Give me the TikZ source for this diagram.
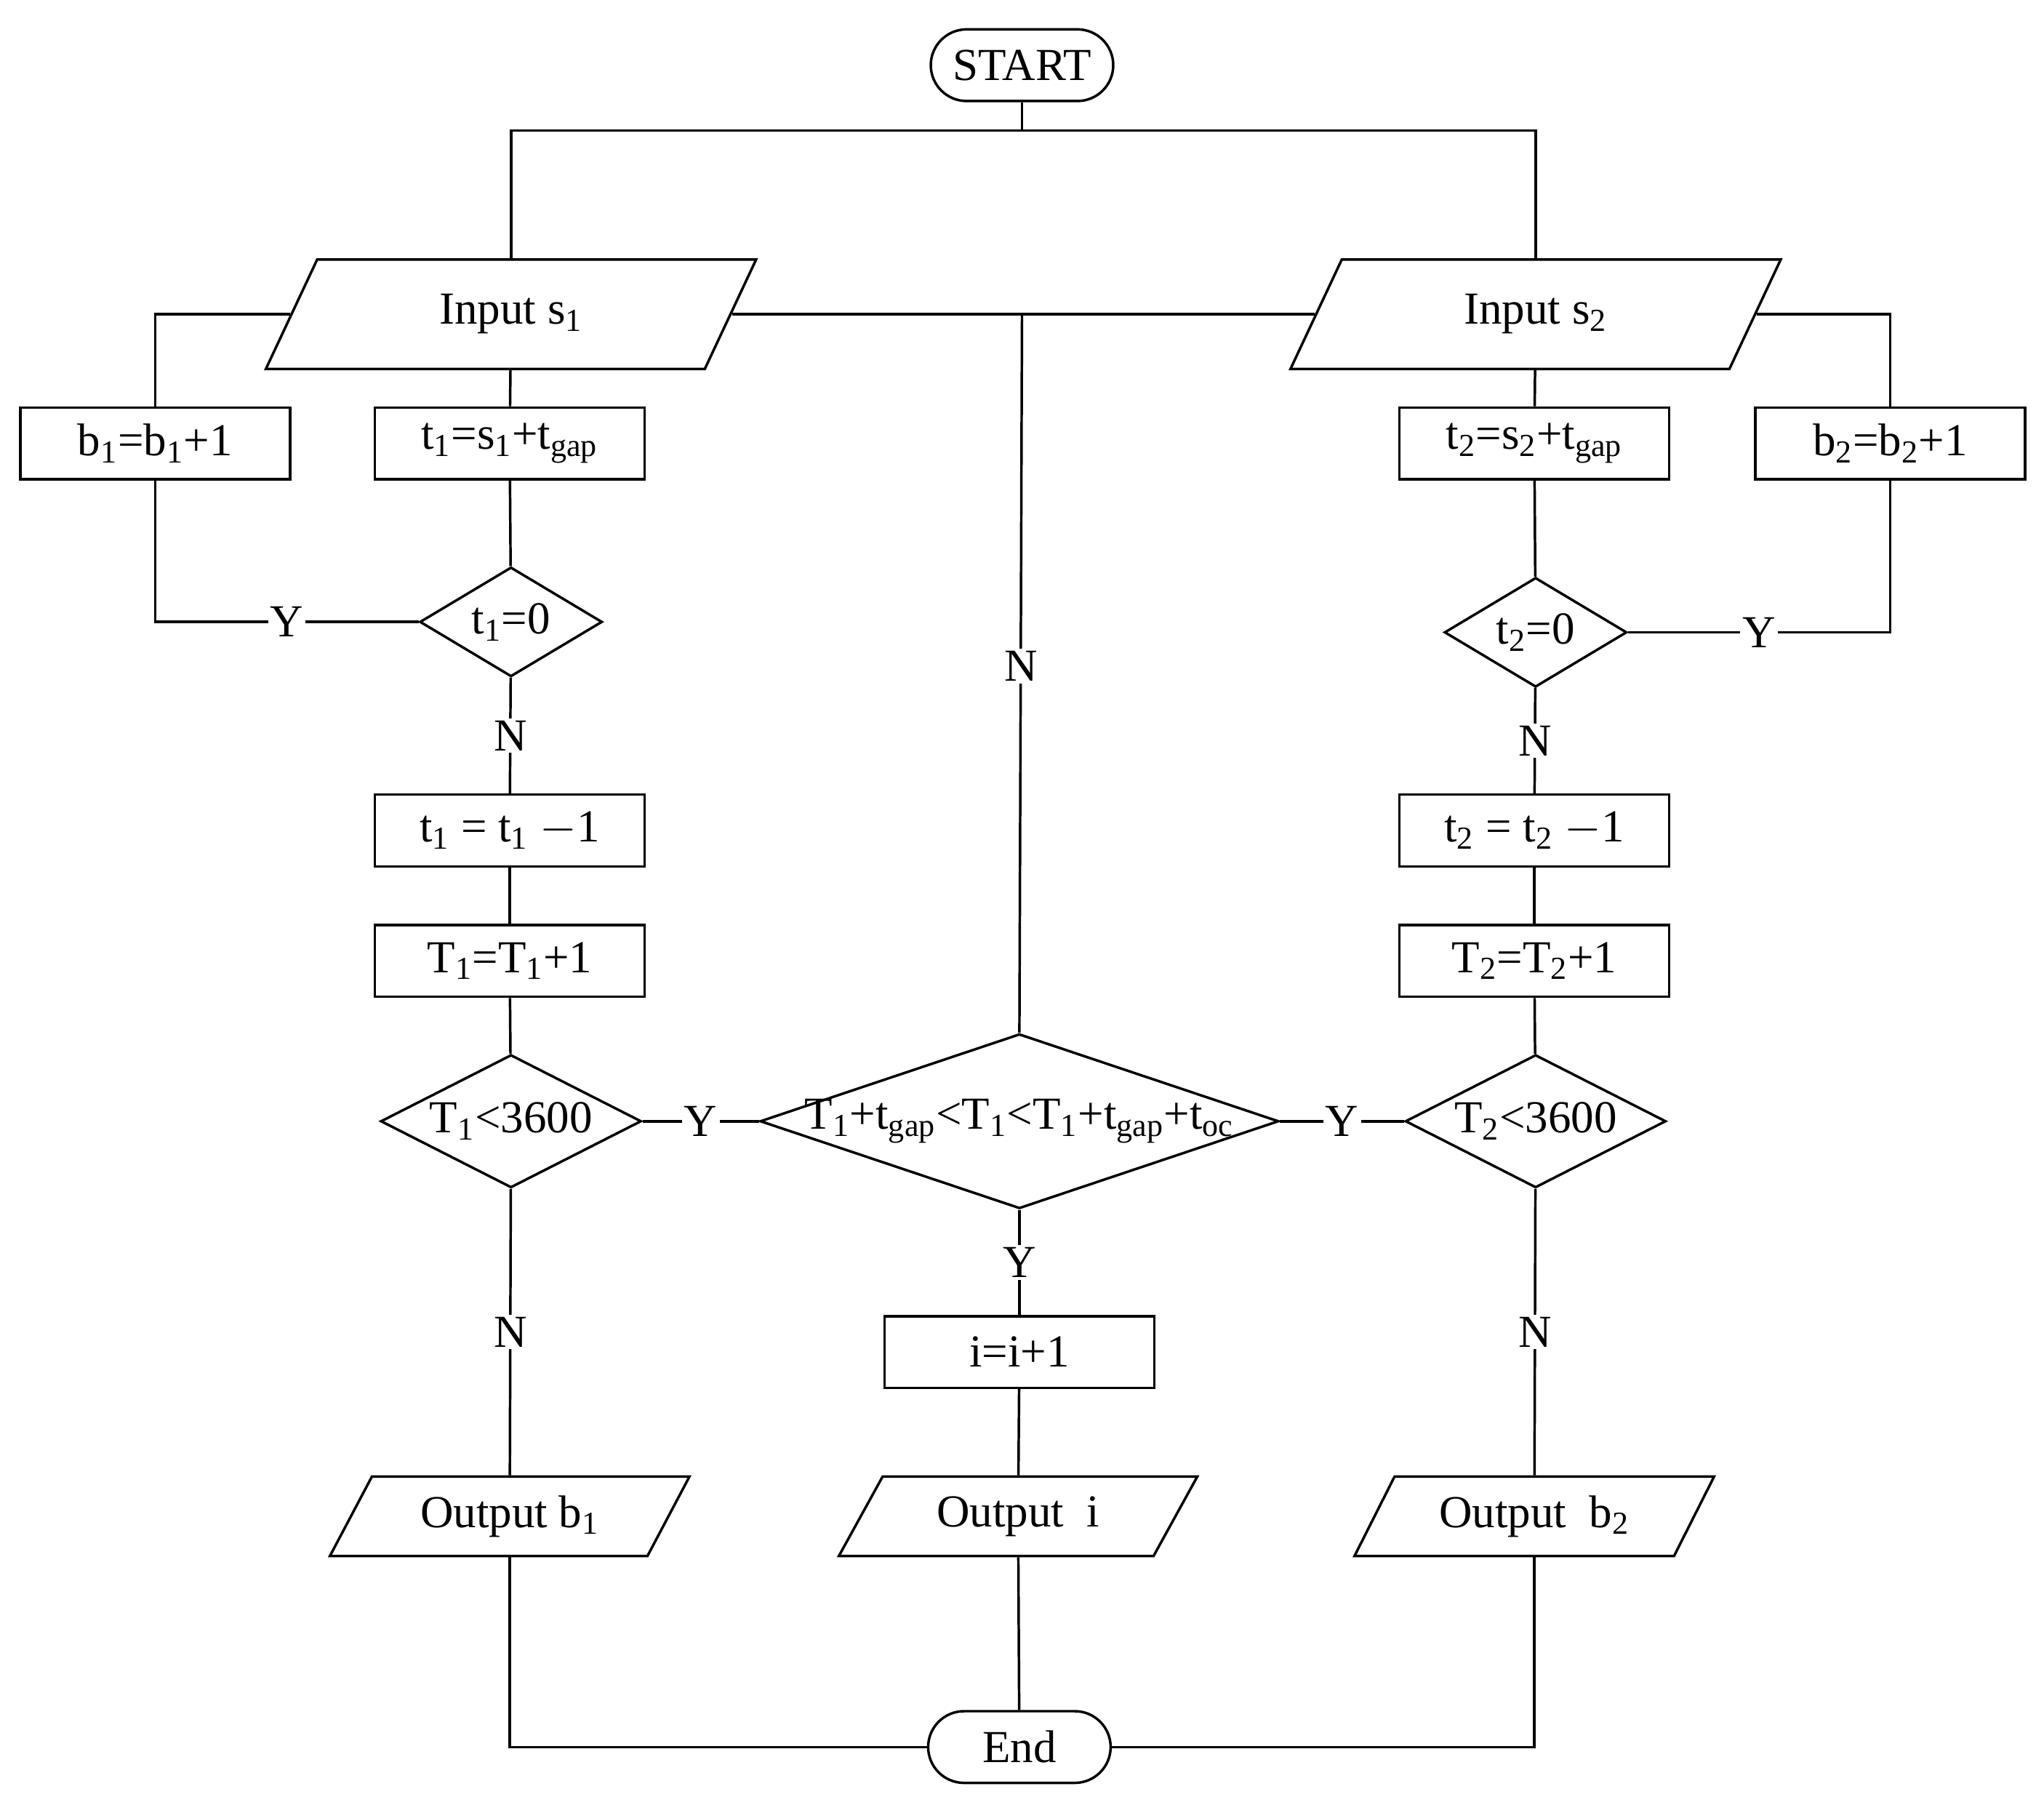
\documentclass[tikz,border=0pt]{standalone}
\usepackage{fontspec}
\setmainfont{Liberation Serif}
\usetikzlibrary{shapes.geometric}
\newcommand{\sbs}[1]{\textsubscript{#1}}
\begin{document}
\begin{tikzpicture}[x=0.02cm,y=-0.02cm,line width=1.1pt,
  every node/.style={font=\fontsize{20}{22}\selectfont},
  box/.style={draw,rectangle,minimum width=4.14cm,minimum height=1.1cm,inner sep=0},
  term/.style={draw,rectangle,rounded corners=0.55cm,minimum width=2.8cm,minimum height=1.1cm,inner sep=0},
  dia/.style={draw,diamond,inner sep=0},
  inp/.style={draw,trapezium,trapezium left angle=64.5,trapezium right angle=115.5,trapezium stretches=true,minimum width=7.56cm,minimum height=1.68cm,inner sep=0},
  outp/.style={draw,trapezium,trapezium left angle=56.7,trapezium right angle=123.3,trapezium stretches=true,minimum width=5.52cm,minimum height=1.22cm,inner sep=0},
  lab/.style={fill=white,inner sep=1pt}]
\useasboundingbox (0,0) rectangle (1568,1384);
\node[term,minimum width=2.8cm] (start) at (784,50) {START};
\node[inp] (in1) at (392,241) {Input s\sbs{1}};
\node[inp] (in2) at (1178,241) {Input s\sbs{2}};
\node[box] (b1) at (119,340) {b\sbs{1}=b\sbs{1}+1};
\node[box] (t1) at (391,340) {t\sbs{1}=s\sbs{1}+t\sbs{gap}};
\node[box] (t2) at (1177,340) {t\sbs{2}=s\sbs{2}+t\sbs{gap}};
\node[box] (b2) at (1450,340) {b\sbs{2}=b\sbs{2}+1};
\node[dia,minimum width=2.8cm,minimum height=1.68cm,label=center:{t\sbs{1}=0}] (d1) at (392,477) {};
\node[dia,minimum width=2.8cm,minimum height=1.68cm,label=center:{t\sbs{2}=0}] (d2) at (1178,485) {};
\node[box] (m1) at (391,637) {t\sbs{1} = t\sbs{1} $-$1};
\node[box] (m2) at (1177,637) {t\sbs{2} = t\sbs{2} $-$1};
\node[box] (p1) at (391,737) {T\sbs{1}=T\sbs{1}+1};
\node[box] (p2) at (1177,737) {T\sbs{2}=T\sbs{2}+1};
\node[dia,minimum width=4cm,minimum height=2.04cm,label=center:{T\sbs{1}<3600}] (e1) at (392,860) {};
\node[dia,minimum width=4cm,minimum height=2.04cm,label=center:{T\sbs{2}<3600}] (e2) at (1178,860) {};
\node[dia,minimum width=7.96cm,minimum height=2.68cm,label=center:{T\sbs{1}+t\sbs{gap}<T\sbs{1}<T\sbs{1}+t\sbs{gap}+t\sbs{oc}}] (big) at (782,860) {};
\node[box] (ii) at (782,1037) {i=i+1};
\node[outp] (o1) at (391,1163) {Output b\sbs{1}};
\node[outp] (oi) at (781,1163) {Output~~i};
\node[outp] (o2) at (1177,1163) {Output~~b\sbs{2}};
\node[term] (end) at (782,1340) {End};
\coordinate (c1) at (784,100);
\coordinate (c2) at (784,241);
% top
\draw (start) -- (c1);
\draw (c1) -| (in1.north);
\draw (c1) -| (in2.north);
\draw (in1.east) -- (in2.west);
\draw (c2) -- node[lab,pos=0.49]{N} (big.north);
% left
\draw (in1.west) -| (b1.north);
\draw (in1) -- (t1);
\draw (t1) -- (d1);
\draw (b1.south) |- node[lab,pos=0.75]{Y} (d1.west);
\draw (d1) -- node[lab]{N} (m1);
\draw (m1) -- (p1);
\draw (p1) -- (e1);
\draw (e1.east) -- node[lab]{Y} (big.west);
\draw (e1) -- node[lab]{N} (o1);
\draw (o1.south) |- (end.west);
% right
\draw (in2.east) -| (b2.north);
\draw (in2) -- (t2);
\draw (t2) -- (d2);
\draw (b2.south) |- node[lab,pos=0.75]{Y} (d2.east);
\draw (d2) -- node[lab]{N} (m2);
\draw (m2) -- (p2);
\draw (p2) -- (e2);
\draw (big.east) -- node[lab]{Y} (e2.west);
\draw (e2) -- node[lab]{N} (o2);
\draw (o2.south) |- (end.east);
% center
\draw (big.south) -- node[lab]{Y} (ii);
\draw (ii) -- (oi);
\draw (oi) -- (end);
\end{tikzpicture}
\end{document}
